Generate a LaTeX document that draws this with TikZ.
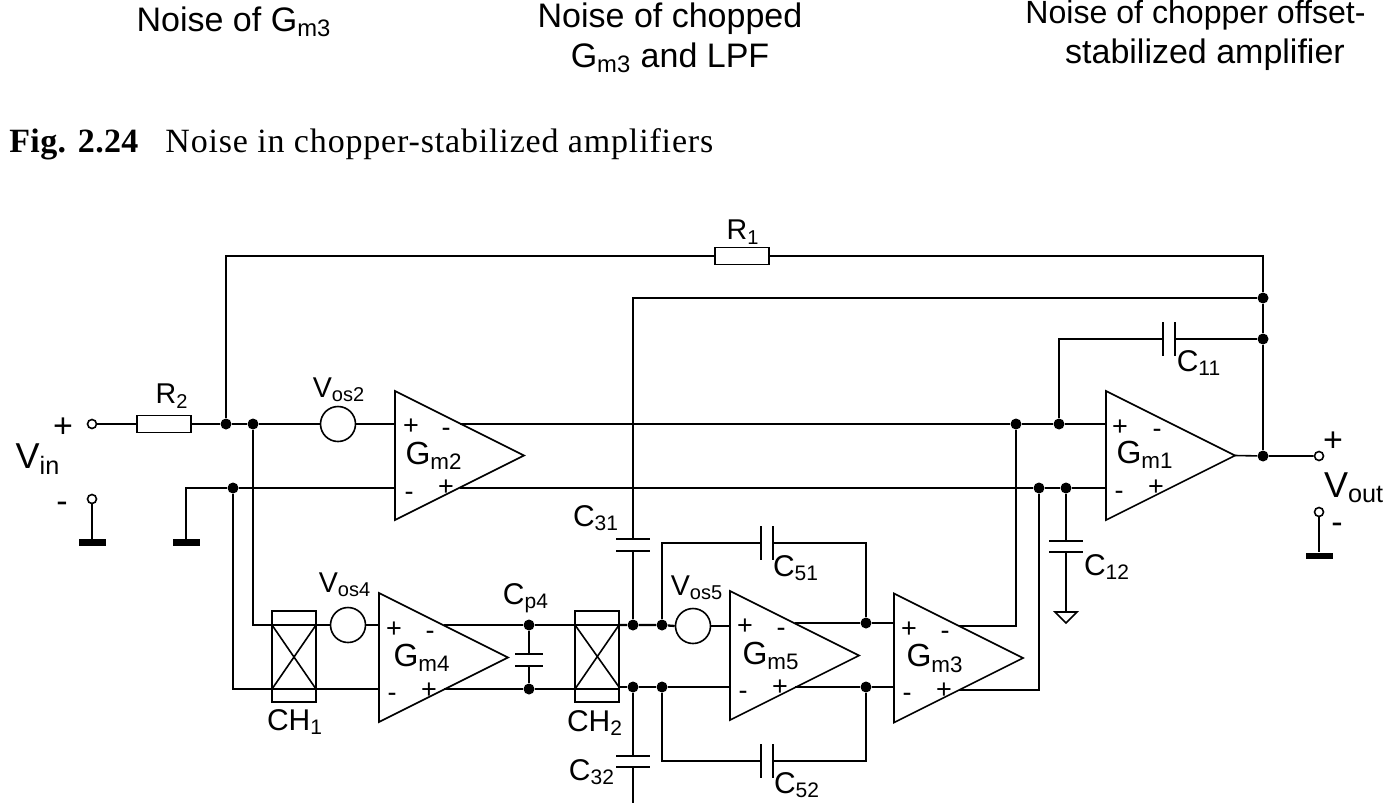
\documentclass[tikz,border=0pt]{standalone}
\usepackage{fontspec}
\setmainfont{Liberation Sans}
\newfontfamily\capfont{Liberation Serif}[LetterSpace=2.45]
\newfontfamily\figfont{Liberation Serif}[LetterSpace=1]
\usetikzlibrary{calc}
% x,y are reference pixels
\tikzset{
  wire/.style={line width=.8pt},
  fat/.style={line width=1.15pt},
  dot/.style={circle,fill=black,inner sep=0,minimum size=5.5pt},
  term/.style={circle,draw,fill=white,line width=.8pt,inner sep=0,minimum size=4.5pt},
  res/.style={draw,line width=.8pt,fill=white,inner sep=0,minimum width=27pt,minimum height=8.5pt},
  src/.style={circle,draw,line width=.8pt,inner sep=0,minimum size=17.5pt},
  chop/.style={draw,line width=.9pt,inner sep=0,minimum width=22pt,minimum height=45.5pt},
  plate/.style={line width=1pt},
  gap/.style={inner sep=0,minimum size=0pt},
  lab/.style={font=\fontsize{14.3}{16}\selectfont,inner sep=0},
  big/.style={font=\fontsize{15}{17}\selectfont,inner sep=0},
  gml/.style={font=\fontsize{16}{18}\selectfont,inner sep=0},
  sign/.style={font=\fontsize{13.5}{15}\selectfont,inner sep=0},
  bsign/.style={font=\fontsize{17}{20}\selectfont,inner sep=0},
  head/.style={font=\fontsize{17}{20}\selectfont,inner sep=0,align=center},
  gnd/.style={fill=black,inner sep=0,minimum width=13.5pt,minimum height=3.2pt},
}
% name, left x, mid y, label, label position
\newcommand{\opamp}[5]{
  \coordinate (#1) at (#2,#3);
  \coordinate (#1e) at (#2+65,#3);
  \coordinate (#1o) at (#2+129,#3);
  \draw[wire,line join=miter] (#2,#3-64.5) -- (#2,#3+64.5) -- (#1o) -- cycle;
  \node[gml] (#1lab) at (#5) {#4};
}
% capacitors: plates across the gap node
\newcommand{\caph}[3][16.5pt]{
  \node[gap,minimum width=#1,minimum height=5.2pt] (#2) at (#3) {};
  \draw[plate] (#2.north west) -- (#2.north east) (#2.south west) -- (#2.south east);
}
\newcommand{\capv}[2]{
  \node[gap,minimum width=5.6pt,minimum height=16.5pt] (#1) at (#2) {};
  \draw[plate] (#1.north west) -- (#1.south west) (#1.north east) -- (#1.south east);
}
\begin{document}
\begin{tikzpicture}[x=.5pt,y=-.5pt]
\useasboundingbox (0,0) rectangle (1400,803);

% headings
\node[head] (h1) at (234,22) {Noise of G\textsubscript{m3}};
\node[head] (h2) at (670,38) {Noise of chopped\\G\textsubscript{m3} and LPF};
\node[head,font=\fontsize{16.05}{20}\selectfont] (h3) at (1195.5,15) {Noise of chopper offset-};
\node[head] (h3b) at (1205,55) {stabilized amplifier};
\node[font=\figfont\bfseries\fontsize{17}{20}\selectfont,inner sep=0,anchor=base west] (f1) at (9,152) {Fig. 2.24};
\node[font=\capfont\fontsize{17}{20}\selectfont,inner sep=0,anchor=base west] (f2) at (165,152) {Noise in chopper-stabilized amplifiers};

% amplifiers
\opamp{gm2}{395}{455.5}{G\textsubscript{m2}}{434,456}
\opamp{gm1}{1106}{455.5}{G\textsubscript{m1}}{1145,455}
\opamp{gm4}{379}{657.5}{G\textsubscript{m4}}{422,658}
\opamp{gm5}{730}{655.5}{G\textsubscript{m5}}{771,656}
\opamp{gm3}{894}{658}{G\textsubscript{m3}}{935,658.5}

% junction dots
\node[dot] (a1) at (226,424) {};
\node[dot] (a2) at (253,424) {};
\node[dot] (a3) at (233,488) {};
\node[dot] (b1) at (1016,424) {};
\node[dot] (b2) at (1059,424) {};
\node[dot] (b3) at (1039,488) {};
\node[dot] (b4) at (1066,488) {};
\node[dot] (o1) at (1263,298) {};
\node[dot] (o2) at (1263,339) {};
\node[dot] (o3) at (1263,456) {};
\node[dot] (p1) at (529,625) {};
\node[dot] (p2) at (529,689) {};
\node[dot] (c1) at (633,625) {};
\node[dot] (c2) at (662,625) {};
\node[dot] (c3) at (633,687) {};
\node[dot] (c4) at (662,687) {};
\node[dot] (e1) at (866,623) {};
\node[dot] (e2) at (866,687) {};

% terminals and grounds
\node[term] (vip) at (92,424) {};
\node[term] (vim) at (92,499) {};
\node[term] (vop) at (1319,456) {};
\node[term] (vom) at (1319,512) {};
\node[gnd] (g1) at (92,542.5) {};
\node[gnd] (g2) at (186,542.5) {};
\node[gnd] (g3) at (1319,556) {};
\coordinate (c12g) at (1066,612);
\draw[wire] (1055,612) -- (1077,612) -- (1066,623) -- cycle;

% resistors, sources
\node[res] (r1) at (742,256) {};
\node[res] (r2) at (164,424) {};
\node[src] (vs2) at (338,424) {};
\node[src] (vs4) at (348,625) {};
\node[src] (vs5) at (693,626) {};

% choppers
\node[chop] (ch1) at (294,656.5) {};
\node[chop] (ch2) at (597,656.5) {};
\coordinate (ch1a) at (272,625);
\coordinate (ch1b) at (316,625);
\coordinate (ch1c) at (272,689);
\coordinate (ch1d) at (316,689);
\coordinate (ch2a) at (575,625);
\coordinate (ch2b) at (619,625);
\coordinate (ch2c) at (575,689);
\coordinate (ch2d) at (619,687);
\coordinate (ch2e) at (619,689);
\draw[wire] (ch1a) -- (ch1d) (ch1b) -- (ch1c) (ch1a) -- (ch1b) (ch1c) -- (ch1d);
\draw[wire] (ch2a) -- (ch2d) (ch2b) -- (ch2c) (ch2a) -- (ch2b) (ch2c) -- (ch2e);

% capacitors
\capv{c11}{1169,339}
\capv{c51}{766.5,543}
\capv{c52}{766.5,761}
\caph{c31}{633,545}
\caph{c32}{633,761.5}
\caph{c12}{1066,546.5}
\caph[13.5pt]{cp4}{529,660}
\coordinate (c32e) at (633,803);

% feedback
\draw[wire] (a1) |- (r1.west);
\draw[wire] (r1.east) -| (o1);
\draw[fat] (1263,256) -- (o1);
\draw[wire] (o1) -- (o2) -- (o3);
\draw[wire] (o1) -| (c31.north);
\draw[wire] (b2) |- (c11.west);
\draw[wire] (c11.east) -- (o2);

% input and main path
\draw[fat] (vip) -- (r2.west);
\draw[wire] (r2.east) -- (a1) -- (a2) -- (vs2.west);
\draw[wire] (vs2.east) -- (vs2.east -| gm2);
\draw[wire] (gm2e |- a1) -- (b1);
\draw[fat] (b1) -- (b2) -- (b2 -| gm1);
\draw[wire] (vim) -- (g1);
\draw[wire] (g2) |- (a3);
\draw[wire] (a3) -- (a3 -| gm2);
\draw[wire] (gm2e |- a3) -- (b3) -- (b4) -- (b4 -| gm1);
\draw[wire] (gm1o) -- (o3) -- (vop);
\draw[wire] (vom) -- (g3);
\draw[wire] (b4) -- (c12.north);
\draw[wire] (c12.south) -- (c12g);

% lower branch
\draw[fat] (a2) |- (ch1a);
\draw[wire] (ch1a) -- (ch1b) -- (vs4.west);
\draw[wire] (vs4.east) -- (vs4.east -| gm4);
\draw[wire] (a3) |- (ch1c);
\draw[fat] (ch1c) -- (ch1d) -- (340,689);
\draw[wire] (340,689) -- (340,689 -| gm4);
\draw[wire] (gm4e |- p1) -- (p1) -- (ch2a);
\draw[wire] (gm4e |- p2) -- (p2) -- (ch2c);
\draw[wire] (p1) -- (cp4.north);
\draw[wire] (p2) -- (cp4.south);
\draw[fat] (ch2b) -- (c1) -- (c2) -- (vs5.west);
\draw[wire] (vs5.east) -- (vs5.east -| gm5);
\draw[wire] (ch2d) -- (c3);
\draw[wire] (c3) -- (c4) -- (c4 -| gm5);
\draw[wire] (c1) -- (c31.south);
\draw[wire] (c3) -- (c32.north);
\draw[wire] (c32.south) -- (c32e);

% C51 / C52 loops
\draw[fat] (c2) |- (c51.west);
\draw[wire] (c51.east) -| (e1);
\draw[fat] (866,560) -- (e1);
\draw[fat] (c4) |- (c52.west);
\draw[wire] (c52.east) -| (e2);
\draw[wire] (gm5e |- e1) -- (e1) -- (e1 -| gm3);
\draw[fat] (gm5e |- e2) -- (e2) -- (e2 -| gm3);

% Gm3 outputs
\coordinate (gm3p) at (959,626);
\coordinate (gm3n) at (959,690);
\draw[fat] (gm3p) -| (b1);
\draw[wire] (gm3n) -| (b3);

% labels
\node[lab] (lr1) at (743,232) {R\textsubscript{1}};
\node[lab] (lr2) at (172,396) {R\textsubscript{2}};
\node[lab] (lv2) at (339,390) {V\textsubscript{os2}};
\node[lab] (lv4) at (345,585) {V\textsubscript{os4}};
\node[lab] (lv5) at (697,588) {V\textsubscript{os5}};
\node[font=\fontsize{18}{20}\selectfont,inner sep=0] (lvi) at (38,459) {V\textsubscript{in}};
\node[font=\fontsize{18}{20}\selectfont,inner sep=0] (lvo) at (1354,488) {V\textsubscript{out}};
\node[big] (l31) at (596,518) {C\textsubscript{31}};
\node[big] (l32) at (592,772) {C\textsubscript{32}};
\node[big] (lp4) at (526,598) {C\textsubscript{p4}};
\node[big] (l11) at (1199,363) {C\textsubscript{11}};
\node[big] (l12) at (1107,567) {C\textsubscript{12}};
\node[big] (l51) at (796,568) {C\textsubscript{51}};
\node[big] (l52) at (797,785) {C\textsubscript{52}};
\node[big] (lc1) at (295,722) {CH\textsubscript{1}};
\node[big] (lc2) at (595,723) {CH\textsubscript{2}};

% polarity signs
\node[bsign] (s1) at (63,428) {+};
\node[bsign] (s2) at (62,507) {-};
\node[bsign] (s3) at (1333,442) {+};
\node[bsign] (s4) at (1337,528) {-};
\node[sign] (q1) at (411,427) {+};
\node[sign] (q2) at (446,432) {-};
\node[sign] (q3) at (409,496) {-};
\node[sign] (q4) at (446,488) {+};
\node[sign] (q5) at (394,630) {+};
\node[sign] (q6) at (430,635) {-};
\node[sign] (q7) at (392,697) {-};
\node[sign] (q8) at (429,691) {+};
\node[sign] (q9) at (745,627) {+};
\node[sign] (q10) at (781,632) {-};
\node[sign] (q11) at (743,695) {-};
\node[sign] (q12) at (780,688) {+};
\node[sign] (q13) at (909,630) {+};
\node[sign] (q14) at (945,635) {-};
\node[sign] (q15) at (907,697) {-};
\node[sign] (q16) at (944,691) {+};
\node[sign] (q17) at (1120,428) {+};
\node[sign] (q18) at (1157,433) {-};
\node[sign] (q19) at (1119,495) {-};
\node[sign] (q20) at (1156,488) {+};
\end{tikzpicture}
\end{document}
